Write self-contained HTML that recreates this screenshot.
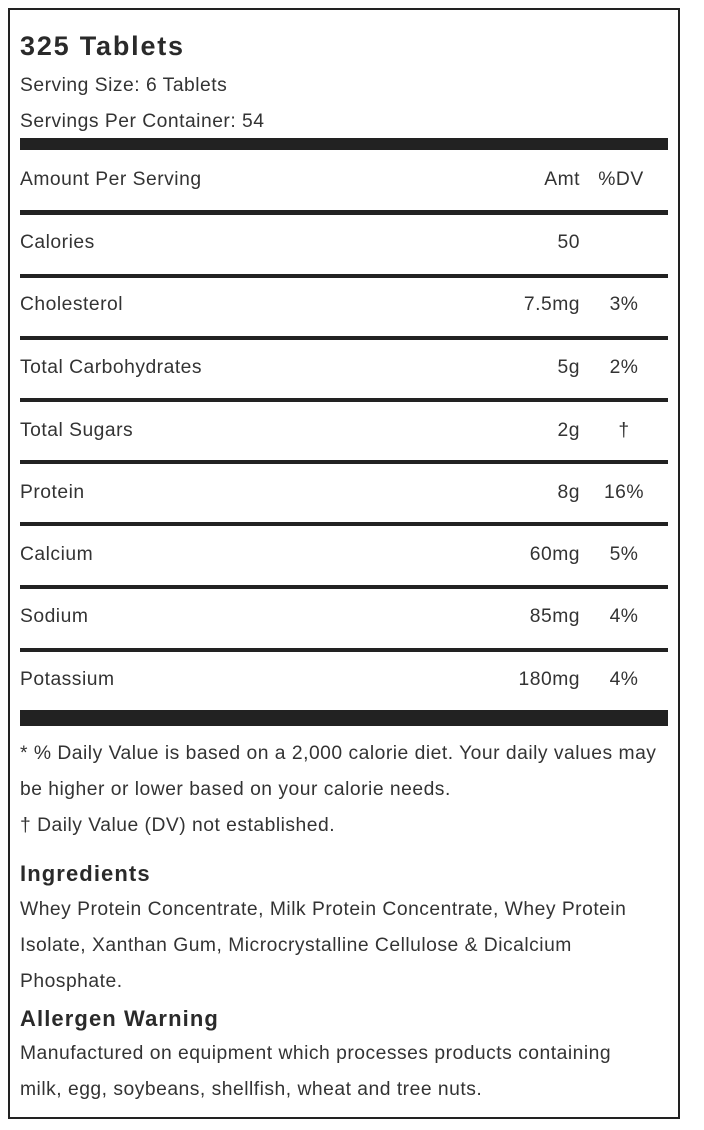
<!DOCTYPE html>
<html><head><meta charset="utf-8">
<style>
html,body{margin:0;padding:0;background:#fff;}
body{width:704px;height:1130px;position:relative;overflow:hidden;font-family:"Liberation Sans",Arial,sans-serif;color:#333;}
.box{position:absolute;left:8px;top:8px;width:668px;height:1107px;border:2px solid #222;}
.t{position:absolute;left:20px;height:36px;line-height:36px;font-size:19.3px;letter-spacing:0.5px;white-space:nowrap;}
.h{position:absolute;left:20px;height:36px;line-height:36px;font-weight:bold;white-space:nowrap;color:#2a2a2a;}
.amt{position:absolute;right:124px;height:36px;line-height:36px;font-size:19.3px;letter-spacing:0.5px;white-space:nowrap;text-align:right;}
.dv{position:absolute;left:593px;width:62px;height:36px;line-height:36px;font-size:19.3px;letter-spacing:0.5px;white-space:nowrap;text-align:center;}
.bar{position:absolute;left:20px;width:648px;background:#222;}
</style></head><body>
<div class="box"></div>

<div class="h" style="top:28px;font-size:27px;letter-spacing:1.8px;">325 Tablets</div>
<div class="t" style="top:68px;">Serving Size: 6 Tablets</div>
<div class="t" style="top:104px;">Servings Per Container: 54</div>

<div class="bar" style="top:138px;height:12px;"></div>

<div class="t" style="top:162px;">Amount Per Serving</div>
<div class="amt" style="top:162px;">Amt</div>
<div class="dv" style="top:162px;left:590px;">%DV</div>

<div class="bar" style="top:210px;height:5px;"></div>

<div class="t" style="top:225px;">Calories</div>
<div class="amt" style="top:225px;">50</div>

<div class="bar" style="top:274px;height:4px;"></div>

<div class="t" style="top:287px;">Cholesterol</div>
<div class="amt" style="top:287px;">7.5mg</div>
<div class="dv" style="top:287px;">3%</div>

<div class="bar" style="top:336px;height:4px;"></div>

<div class="t" style="top:350px;">Total Carbohydrates</div>
<div class="amt" style="top:350px;">5g</div>
<div class="dv" style="top:350px;">2%</div>

<div class="bar" style="top:398px;height:4px;"></div>

<div class="t" style="top:413px;">Total Sugars</div>
<div class="amt" style="top:413px;">2g</div>
<div class="dv" style="top:413px;">†</div>

<div class="bar" style="top:460px;height:4px;"></div>

<div class="t" style="top:475px;">Protein</div>
<div class="amt" style="top:475px;">8g</div>
<div class="dv" style="top:475px;">16%</div>

<div class="bar" style="top:522px;height:4px;"></div>

<div class="t" style="top:537px;">Calcium</div>
<div class="amt" style="top:537px;">60mg</div>
<div class="dv" style="top:537px;">5%</div>

<div class="bar" style="top:585px;height:4px;"></div>

<div class="t" style="top:599px;">Sodium</div>
<div class="amt" style="top:599px;">85mg</div>
<div class="dv" style="top:599px;">4%</div>

<div class="bar" style="top:648px;height:4px;"></div>

<div class="t" style="top:662px;">Potassium</div>
<div class="amt" style="top:662px;">180mg</div>
<div class="dv" style="top:662px;">4%</div>

<div class="bar" style="top:710px;height:16px;"></div>

<div class="t" style="top:736px;">* % Daily Value is based on a 2,000 calorie diet. Your daily values may</div>
<div class="t" style="top:772px;">be higher or lower based on your calorie needs.</div>
<div class="t" style="top:808px;">† Daily Value (DV) not established.</div>

<div class="h" style="top:856px;font-size:22px;letter-spacing:1.1px;">Ingredients</div>
<div class="t" style="top:892px;">Whey Protein Concentrate, Milk Protein Concentrate, Whey Protein</div>
<div class="t" style="top:928px;">Isolate, Xanthan Gum, Microcrystalline Cellulose &amp; Dicalcium</div>
<div class="t" style="top:964px;">Phosphate.</div>

<div class="h" style="top:1001px;font-size:22px;letter-spacing:1.1px;">Allergen Warning</div>
<div class="t" style="top:1036px;">Manufactured on equipment which processes products containing</div>
<div class="t" style="top:1072px;">milk, egg, soybeans, shellfish, wheat and tree nuts.</div>
</body></html>
